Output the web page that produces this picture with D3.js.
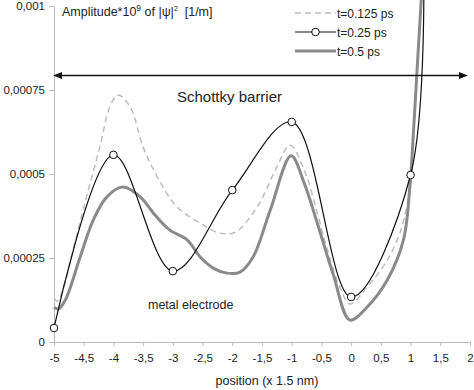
<!DOCTYPE html>
<html lang="en">
<head>
  <meta charset="UTF-8">
  <title>Schottky barrier wave packet</title>
  <script src="https://d3js.org/d3.v7.min.js"></script>
  <style>
    body { margin: 0; background: #fff; font-family: "Liberation Sans", Arial, sans-serif; }
    svg text { fill: #222; }
  </style>
</head>
<body>
  <div id="viz"></div>
  <script>
    const width = 474, height = 390;

    // Tick values
    const xTicks = d3.range(-5, 2.01, 0.5);
    const yTicks = [0, 0.00025, 0.0005, 0.00075, 0.001];

    // t = 0.125 ps (dashed light grey)
    const t125 = [
      [-5, 0.000131], [-4.95, 0.000122], [-4.85, 0.000155], [-4.68, 0.000274],
      [-4.51, 0.000393], [-4.23, 0.00058], [-4.06, 0.0007], [-3.92, 0.000735],
      [-3.72, 0.0007], [-3.5, 0.00058], [-3.26, 0.000491], [-2.93, 0.000402],
      [-2.54, 0.000354], [-2.21, 0.000324], [-1.95, 0.000327], [-1.58, 0.000402],
      [-1.25, 0.000521], [-1.03, 0.000586], [-0.79, 0.000512], [-0.57, 0.000384],
      [-0.4, 0.000274], [-0.19, 0.000164], [-0.02, 0.000113], [0.27, 0.000164],
      [0.61, 0.000244], [0.82, 0.000324], [0.96, 0.000423], [1.01, 0.000488],
      [1.08, 0.00072], [1.18, 0.00102], [1.23, 0.00114]
    ];

    // t = 0.25 ps (black with markers)
    const t25 = [
      [-5, 0.0000417], [-4, 0.000557], [-3, 0.000211], [-2, 0.000452],
      [-1, 0.000655], [0, 0.000134], [1, 0.000497], [1.22, 0.00116]
    ];

    // t = 0.5 ps (thick grey)
    const t50 = [
      [-5, 0.000104], [-4.93, 0.000098], [-4.81, 0.000125], [-4.56, 0.000253],
      [-4.34, 0.000363], [-4.11, 0.000432], [-3.84, 0.000461], [-3.55, 0.000432],
      [-3.3, 0.000378], [-3.05, 0.000333], [-2.76, 0.000304], [-2.54, 0.000253],
      [-2.32, 0.00022], [-2.09, 0.000205], [-1.87, 0.000208], [-1.65, 0.000253],
      [-1.36, 0.000393], [-1.01, 0.000554], [-0.79, 0.000473], [-0.56, 0.000348],
      [-0.3, 0.0002], [-0.02, 0.0000655], [0.27, 0.000104], [0.61, 0.000185],
      [0.88, 0.000304], [0.99, 0.000467], [1.06, 0.00066], [1.18, 0.00102],
      [1.23, 0.00114]
    ];

    const fmt = v => String(v).replace('.', ',');

    const svg = d3.select('#viz').append('svg')
      .attr('width', width).attr('height', height);

    const x = d3.scaleLinear().domain([-5, 2]).range([54, 470]);
    const y = d3.scaleLinear().domain([0, 0.001]).range([342, 6]);

    // Axes
    const xAxis = svg.append('g')
      .attr('transform', `translate(0,${y(0)})`)
      .call(d3.axisBottom(x).tickValues(xTicks).tickFormat(fmt).tickSize(4).tickSizeOuter(0));
    const yAxis = svg.append('g')
      .attr('transform', `translate(${x(-5)},0)`)
      .call(d3.axisLeft(y).tickValues(yTicks).tickFormat(fmt).tickSize(5).tickSizeOuter(0));
    [xAxis, yAxis].forEach(a => {
      a.select('.domain').attr('stroke', '#bbb');
      a.selectAll('.tick line').attr('stroke', '#bbb');
      a.selectAll('.tick text')
        .attr('font-family', '"Liberation Sans", Arial, sans-serif')
        .attr('font-size', 11.5).attr('fill', '#222');
    });
    xAxis.selectAll('.tick text').attr('dy', '0.71em').attr('y', 12);
    yAxis.selectAll('.tick text').attr('x', -9);

    const line = d3.line()
      .x(d => x(d[0])).y(d => y(d[1]))
      .curve(d3.curveCatmullRom.alpha(0.5));

    svg.append('path').datum(t125)
      .attr('fill', 'none').attr('stroke', '#bdbdbd')
      .attr('stroke-width', 1.5).attr('stroke-dasharray', '6,4')
      .attr('d', line);

    svg.append('path').datum(t50)
      .attr('fill', 'none').attr('stroke', '#8a8a8a')
      .attr('stroke-width', 3)
      .attr('d', line);

    svg.append('path').datum(t25)
      .attr('fill', 'none').attr('stroke', '#111')
      .attr('stroke-width', 1.2)
      .attr('d', line);

    svg.selectAll('circle.m')
      .data(t25.filter(d => d[1] <= 0.001))
      .enter().append('circle')
      .attr('class', 'm')
      .attr('cx', d => x(d[0])).attr('cy', d => y(d[1]))
      .attr('r', 3.8)
      .attr('fill', '#fff').attr('stroke', '#111').attr('stroke-width', 1);

    // Schottky barrier double arrow
    const ay = 75.5, ax0 = 53, ax1 = 468;
    svg.append('line')
      .attr('x1', ax0 + 6).attr('x2', ax1 - 6)
      .attr('y1', ay).attr('y2', ay)
      .attr('stroke', '#111').attr('stroke-width', 1.6);
    svg.append('path')
      .attr('d', `M${ax0},${ay}L${ax0 + 9},${ay - 3.5}L${ax0 + 9},${ay + 3.5}Z`)
      .attr('fill', '#111');
    svg.append('path')
      .attr('d', `M${ax1},${ay}L${ax1 - 9},${ay - 3.5}L${ax1 - 9},${ay + 3.5}Z`)
      .attr('fill', '#111');

    // Texts
    svg.append('text').attr('x', 177).attr('y', 102)
      .attr('font-size', 15).text('Schottky barrier');
    svg.append('text').attr('x', 148).attr('y', 309)
      .attr('font-size', 12.5).text('metal electrode');
    svg.append('text').attr('x', 267).attr('y', 385)
      .attr('text-anchor', 'middle').attr('font-size', 12.5)
      .text('position (x 1.5 nm)');

    const title = svg.append('text').attr('x', 62).attr('y', 16).attr('font-size', 12.5);
    title.append('tspan').text('Amplitude*10');
    title.append('tspan').attr('font-size', 8.5).attr('dy', -5).text('9');
    title.append('tspan').attr('dy', 5).text(' of |\u03c8|');
    title.append('tspan').attr('font-size', 7).attr('dy', -5).text('2');
    title.append('tspan').attr('dy', 5).text('\u00a0\u00a0[1/m]');

    // Legend
    const legend = [
      { label: 't=0.125 ps', color: '#bdbdbd', w: 1.5, dash: '6,4', marker: false, y: 13 },
      { label: 't=0.25 ps', color: '#111', w: 1.2, dash: null, marker: true, y: 32 },
      { label: 't=0.5 ps', color: '#8a8a8a', w: 3, dash: null, marker: false, y: 51 }
    ];
    legend.forEach(l => {
      svg.append('line')
        .attr('x1', 295).attr('x2', 336).attr('y1', l.y).attr('y2', l.y)
        .attr('stroke', l.color).attr('stroke-width', l.w)
        .attr('stroke-dasharray', l.dash);
      if (l.marker) {
        svg.append('circle').attr('cx', 315.5).attr('cy', l.y).attr('r', 3.8)
          .attr('fill', '#fff').attr('stroke', '#111').attr('stroke-width', 1);
      }
      svg.append('text').attr('x', 337).attr('y', l.y + 4.5)
        .attr('font-size', 12).text(l.label);
    });
  </script>
</body>
</html>
